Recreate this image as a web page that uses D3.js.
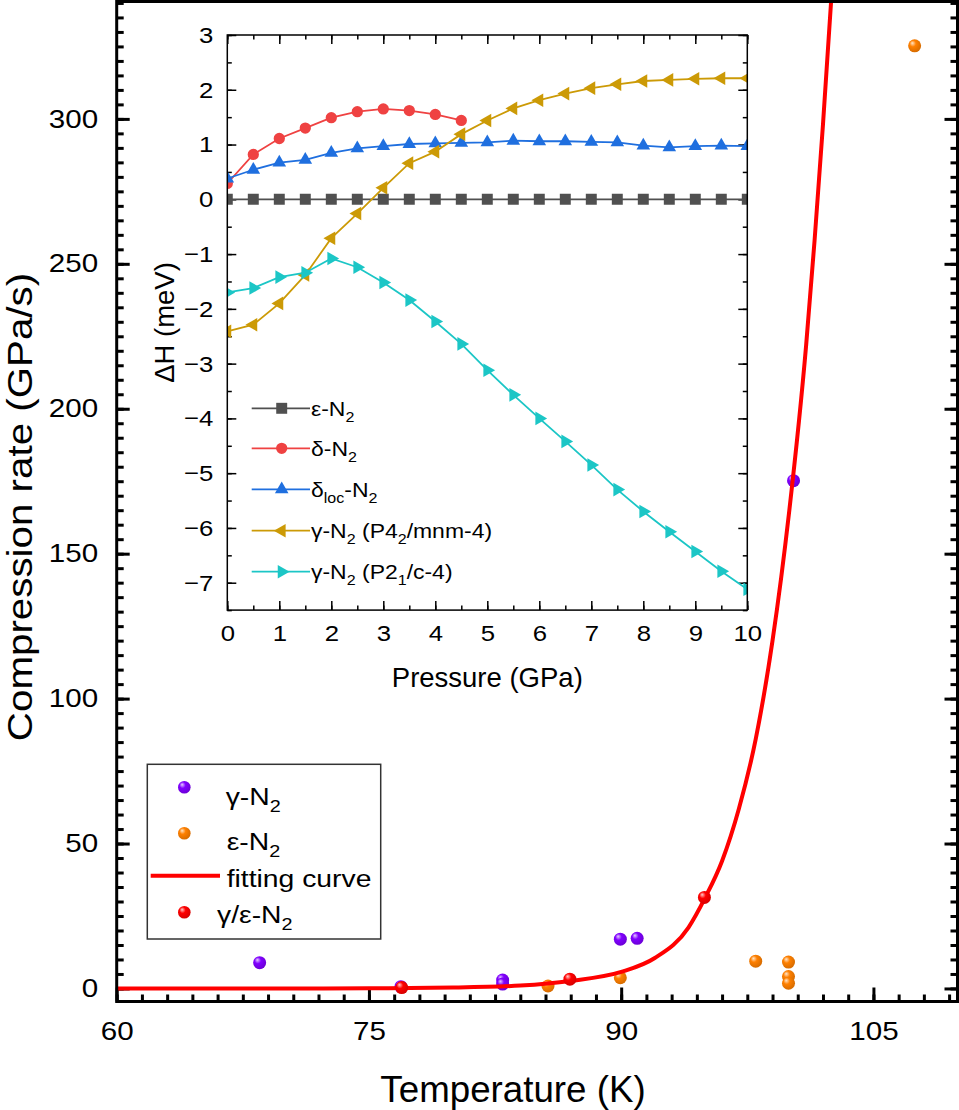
<!DOCTYPE html>
<html>
<head>
<meta charset="utf-8">
<script src="https://cdn.jsdelivr.net/npm/d3@7"></script>
<style>
  body { margin: 0; background: #fff; }
  text { font-family: "Liberation Sans", Arial, sans-serif; fill: #000; }
</style>
</head>
<body>
<div id="chart"></div>
<script>
// ---- main chart data ----
const gammaTemp = [68.5, 76.9, 82.95, 82.95, 89.95, 90.95, 100.25];
const gammaRate = [8.9, 0.6, 2.9, 1.5, 17.0, 17.3, 175.2];

const epsTemp = [85.65, 89.95, 98.0, 99.95, 99.95, 99.95, 107.45];
const epsRate = [0.85, 3.7, 9.4, 9.1, 4.1, 1.8, 325.2];

const mixTemp = [76.95, 86.95, 94.95];
const mixRate = [0.3, 3.2, 31.4];

const fitTemp = [60, 70, 75, 80, 84, 87, 90, 92, 94, 95, 96, 97, 98, 99, 100, 101, 101.5, 102, 102.5, 103];
const fitRate = [0, 0, 0.05, 0.3, 1.0, 2.6, 5.7, 10.5, 21, 31.4, 44, 62, 86, 120, 165, 222, 258, 298, 342, 390];

const tempTicks = [60, 75, 90, 105];
const rateTicks = [0, 50, 100, 150, 200, 250, 300];

// ---- inset data ----
const pressure = [0, 0.5, 1, 1.5, 2, 2.5, 3, 3.5, 4, 4.5, 5, 5.5, 6, 6.5, 7, 7.5, 8, 8.5, 9, 9.5, 10];
const dhEps = [0, 0, 0, 0, 0, 0, 0, 0, 0, 0, 0, 0, 0, 0, 0, 0, 0, 0, 0, 0, 0];
const dhDelta = [0.29, 0.82, 1.11, 1.30, 1.49, 1.60, 1.65, 1.62, 1.55, 1.44];
const dhDeltaLoc = [0.38, 0.54, 0.67, 0.72, 0.85, 0.93, 0.97, 1.01, 1.02, 1.03, 1.04,
                    1.07, 1.06, 1.06, 1.05, 1.04, 0.98, 0.95, 0.97, 0.98, 0.97];
const dhGamma42 = [-2.41, -2.29, -1.90, -1.38, -0.71, -0.26, 0.21, 0.66, 0.87, 1.19, 1.44,
                   1.66, 1.81, 1.93, 2.03, 2.10, 2.16, 2.18, 2.20, 2.21, 2.21];
const dhGamma21 = [-1.70, -1.62, -1.42, -1.34, -1.08, -1.24, -1.52, -1.84, -2.23, -2.64, -3.12,
                   -3.57, -4.00, -4.42, -4.85, -5.30, -5.70, -6.07, -6.43, -6.79, -7.12];

const pressureTicks = [0, 1, 2, 3, 4, 5, 6, 7, 8, 9, 10];
const dhTicks = [-7, -6, -5, -4, -3, -2, -1, 0, 1, 2, 3];

// ---- svg ----
const svgWidth = 959;
const svgHeight = 1110;

const svg = d3.select("#chart")
  .append("svg")
  .attr("width", svgWidth)
  .attr("height", svgHeight);

const defs = svg.append("defs");

// shiny ball gradients like Origin's "ball" symbols
function ballGradient(id, color) {
  const g = defs.append("radialGradient")
    .attr("id", id)
    .attr("cx", "0.42").attr("cy", "0.4").attr("r", "0.62")
    .attr("fx", "0.32").attr("fy", "0.28");
  g.append("stop").attr("offset", "0%").attr("stop-color", d3.interpolateRgb(color, "#fff")(0.8));
  g.append("stop").attr("offset", "40%").attr("stop-color", color);
  g.append("stop").attr("offset", "100%").attr("stop-color", d3.color(color).darker(0.5));
}
ballGradient("ballPurple", "#8000ff");
ballGradient("ballOrange", "#ff8000");
ballGradient("ballRed", "#ff0000");

// text with _{...} subscripts, optional horizontal stretch
function richText(parent, x, y, str, size, sx, anchor, rotate) {
  const t = parent.append("text")
    .attr("transform", `translate(${x},${y})` + (rotate ? ` rotate(${rotate})` : "") + ` scale(${sx},1)`)
    .attr("font-size", size)
    .attr("text-anchor", anchor || "start");
  const parts = str.split(/(_\{[^}]*\})/);
  let inSub = false;
  const shift = size * 0.28;
  parts.forEach(p => {
    if (!p) return;
    if (p.startsWith("_{")) {
      t.append("tspan").attr("dy", shift).attr("font-size", size * 0.7).text(p.slice(2, -1));
      inSub = true;
    } else {
      const sp = t.append("tspan").text(p);
      if (inSub) sp.attr("dy", -shift);
      inSub = false;
    }
  });
  return t;
}

function styleAxis(g, width, size, sx) {
  g.select(".domain").remove();
  g.selectAll(".tick line").attr("stroke", "#000").attr("stroke-width", width);
  g.selectAll(".tick text")
    .attr("font-size", size)
    .attr("fill", "#000")
    .attr("transform", `scale(${sx},1)`);
}

// ================= main chart =================
const main = { left: 116.7, right: 957.5, top: 1.5, bottom: 1001.5 };

const x = d3.scaleLinear().domain([60, 110]).range([main.left, main.right]);
const y = d3.scaleLinear().domain([-4.5, 340.5]).range([main.bottom, main.top]);

defs.append("clipPath").attr("id", "mainClip")
  .append("rect")
  .attr("x", main.left).attr("y", main.top)
  .attr("width", main.right - main.left).attr("height", main.bottom - main.top);

const tempMinor = d3.range(60, 110.01, 1.5);
const rateMinor = d3.range(0, 340.5, 5);

// left axis
svg.append("g")
  .attr("transform", `translate(${main.left},0)`)
  .call(d3.axisLeft(y).tickValues(rateMinor).tickSize(-7).tickFormat(""))
  .call(g => styleAxis(g, 3, 0, 1));
svg.append("g")
  .attr("transform", `translate(${main.left},0)`)
  .call(d3.axisLeft(y).tickValues(rateTicks).tickSize(-13).tickPadding(16))
  .call(g => styleAxis(g, 3, 25.5, 1.16));

// right axis
svg.append("g")
  .attr("transform", `translate(${main.right},0)`)
  .call(d3.axisRight(y).tickValues(rateMinor).tickSize(-7).tickFormat(""))
  .call(g => styleAxis(g, 3, 0, 1));
svg.append("g")
  .attr("transform", `translate(${main.right},0)`)
  .call(d3.axisRight(y).tickValues(rateTicks).tickSize(-13).tickFormat(""))
  .call(g => styleAxis(g, 3, 0, 1));

// bottom axis
svg.append("g")
  .attr("transform", `translate(0,${main.bottom})`)
  .call(d3.axisBottom(x).tickValues(tempMinor).tickSize(-7).tickFormat(""))
  .call(g => styleAxis(g, 3, 0, 1));
svg.append("g")
  .attr("transform", `translate(0,${main.bottom})`)
  .call(d3.axisBottom(x).tickValues(tempTicks).tickSize(-14).tickPadding(20))
  .call(g => styleAxis(g, 3, 25.5, 1.16));

// axis titles
richText(svg, 513, 1102, "Temperature (K)", 36, 1.02, "middle");
richText(svg, 32, 507, "Compression rate (GPa/s)", 36, 1.12, "middle", -90);

// plotted marks
const plot = svg.append("g").attr("clip-path", "url(#mainClip)");

function balls(temps, rates, fill) {
  plot.append("g").selectAll("circle")
    .data(temps.map((t, i) => [t, rates[i]]))
    .enter()
    .append("circle")
    .attr("cx", d => x(d[0]))
    .attr("cy", d => y(d[1]))
    .attr("r", 6.5)
    .attr("fill", fill);
}

balls(gammaTemp, gammaRate, "url(#ballPurple)");
balls(epsTemp, epsRate, "url(#ballOrange)");

const fitLine = d3.line()
  .x(d => x(d[0]))
  .y(d => y(d[1]))
  .curve(d3.curveMonotoneX);

plot.append("path")
  .datum(fitTemp.map((t, i) => [t, fitRate[i]]))
  .attr("d", fitLine)
  .attr("fill", "none")
  .attr("stroke", "#ff0000")
  .attr("stroke-width", 4);

balls(mixTemp, mixRate, "url(#ballRed)");

// frame
svg.append("rect")
  .attr("x", main.left).attr("y", main.top)
  .attr("width", main.right - main.left).attr("height", main.bottom - main.top)
  .attr("fill", "none").attr("stroke", "#000").attr("stroke-width", 3);

// main legend
const legend = svg.append("g");
legend.append("rect")
  .attr("x", 147.3).attr("y", 764.3)
  .attr("width", 233.4).attr("height", 174.7)
  .attr("fill", "#fff").attr("stroke", "#333").attr("stroke-width", 1.5);

const mainLegend = [
  { label: "\u03b3-N_{2}", fill: "url(#ballPurple)", my: 787.3, ty: 805, tx: 225.7 },
  { label: "\u03b5-N_{2}", fill: "url(#ballOrange)", my: 833.3, ty: 850, tx: 226.7 },
  { label: "fitting curve", line: "#ff0000", my: 875.7, ty: 886.7, tx: 226.7 },
  { label: "\u03b3/\u03b5-N_{2}", fill: "url(#ballRed)", my: 912.3, ty: 923.3, tx: 217 }
];
mainLegend.forEach(e => {
  if (e.line) {
    legend.append("line")
      .attr("x1", 150.7).attr("x2", 220)
      .attr("y1", e.my).attr("y2", e.my)
      .attr("stroke", e.line).attr("stroke-width", 4);
  } else {
    legend.append("circle")
      .attr("cx", 184.3).attr("cy", e.my).attr("r", 6.3)
      .attr("fill", e.fill);
  }
  richText(legend, e.tx, e.ty, e.label, 24, 1.18, "start");
});

// ================= inset =================
const inset = { left: 227.3, right: 747.3, top: 35, bottom: 610.1 };

const ix = d3.scaleLinear().domain([0, 10]).range([inset.left, inset.right]);
const iy = d3.scaleLinear().domain([-7.5, 3]).range([inset.bottom, inset.top]);

const ig = svg.append("g");

ig.append("rect")
  .attr("x", inset.left).attr("y", inset.top)
  .attr("width", inset.right - inset.left).attr("height", inset.bottom - inset.top)
  .attr("fill", "#fff");

defs.append("clipPath").attr("id", "insetClip")
  .append("rect")
  .attr("x", inset.left).attr("y", inset.top)
  .attr("width", inset.right - inset.left).attr("height", inset.bottom - inset.top);

const pMinor = d3.range(0, 10.01, 0.5);
const dhMinor = d3.range(-7.5, 3.01, 0.5);

function insetAxis(axisFn, scale, translate, values, len, labels, padding) {
  const a = axisFn(scale).tickValues(values).tickSize(-len);
  if (labels) a.tickPadding(padding); else a.tickFormat("");
  ig.append("g")
    .attr("transform", translate)
    .call(a)
    .call(g => styleAxis(g, 1.5, 23, 1.12));
}

insetAxis(d3.axisLeft, iy, `translate(${inset.left},0)`, dhMinor, 4.5, false);
insetAxis(d3.axisLeft, iy, `translate(${inset.left},0)`, dhTicks, 9, true, 12.5);
insetAxis(d3.axisRight, iy, `translate(${inset.right},0)`, dhMinor, 4.5, false);
insetAxis(d3.axisRight, iy, `translate(${inset.right},0)`, dhTicks, 9, false);
insetAxis(d3.axisBottom, ix, `translate(0,${inset.bottom})`, pMinor, 4.5, false);
insetAxis(d3.axisBottom, ix, `translate(0,${inset.bottom})`, pressureTicks, 9, true, 15);
insetAxis(d3.axisTop, ix, `translate(0,${inset.top})`, pMinor, 4.5, false);
insetAxis(d3.axisTop, ix, `translate(0,${inset.top})`, pressureTicks, 9, false);

richText(ig, 487.3, 686.7, "Pressure (GPa)", 27.5, 1, "middle");
richText(ig, 174, 322.5, "\u0394H (meV)", 27.5, 1, "middle", -90);

const series = [
  { label: "\u03b5-N_{2}", values: dhEps, color: "#505050", symbol: d3.symbolSquare, size: 120, rot: 0 },
  { label: "\u03b4-N_{2}", values: dhDelta, color: "#ef4242", symbol: d3.symbolCircle, size: 100, rot: 0 },
  { label: "\u03b4_{loc}-N_{2}", values: dhDeltaLoc, color: "#1f6fdf", symbol: d3.symbolTriangle, size: 80, rot: 0 },
  { label: "\u03b3-N_{2} (P4_{2}/mnm-4)", values: dhGamma42, color: "#cc9a06", symbol: d3.symbolTriangle, size: 80, rot: -90 },
  { label: "\u03b3-N_{2} (P2_{1}/c-4)", values: dhGamma21, color: "#1cc6c6", symbol: d3.symbolTriangle, size: 80, rot: 90 }
];

const insetPlot = ig.append("g").attr("clip-path", "url(#insetClip)");

const dhLine = d3.line()
  .x(d => ix(d[0]))
  .y(d => iy(d[1]));

series.forEach(s => {
  const pts = s.values.map((v, i) => [pressure[i], v]);
  insetPlot.append("path")
    .datum(pts)
    .attr("d", dhLine)
    .attr("fill", "none")
    .attr("stroke", s.color)
    .attr("stroke-width", 1.8);
  insetPlot.append("g").selectAll("path")
    .data(pts)
    .enter()
    .append("path")
    .attr("d", d3.symbol().type(s.symbol).size(s.size))
    .attr("transform", d => `translate(${ix(d[0])},${iy(d[1])}) rotate(${s.rot})`)
    .attr("fill", s.color);
});

// inset frame
ig.append("rect")
  .attr("x", inset.left).attr("y", inset.top)
  .attr("width", inset.right - inset.left).attr("height", inset.bottom - inset.top)
  .attr("fill", "none").attr("stroke", "#000").attr("stroke-width", 1.5);

// inset legend
const legendY = [408.3, 448.3, 489.3, 530.7, 571.7];
series.forEach((s, i) => {
  const ly = legendY[i];
  ig.append("line")
    .attr("x1", 251.7).attr("x2", 310)
    .attr("y1", ly).attr("y2", ly)
    .attr("stroke", s.color).attr("stroke-width", 1.8);
  ig.append("path")
    .attr("d", d3.symbol().type(s.symbol).size(s.size))
    .attr("transform", `translate(281.7,${ly}) rotate(${s.rot})`)
    .attr("fill", s.color);
  richText(ig, 311, ly + 7.7, s.label, 20.5, 1.12, "start");
});
</script>
</body>
</html>
